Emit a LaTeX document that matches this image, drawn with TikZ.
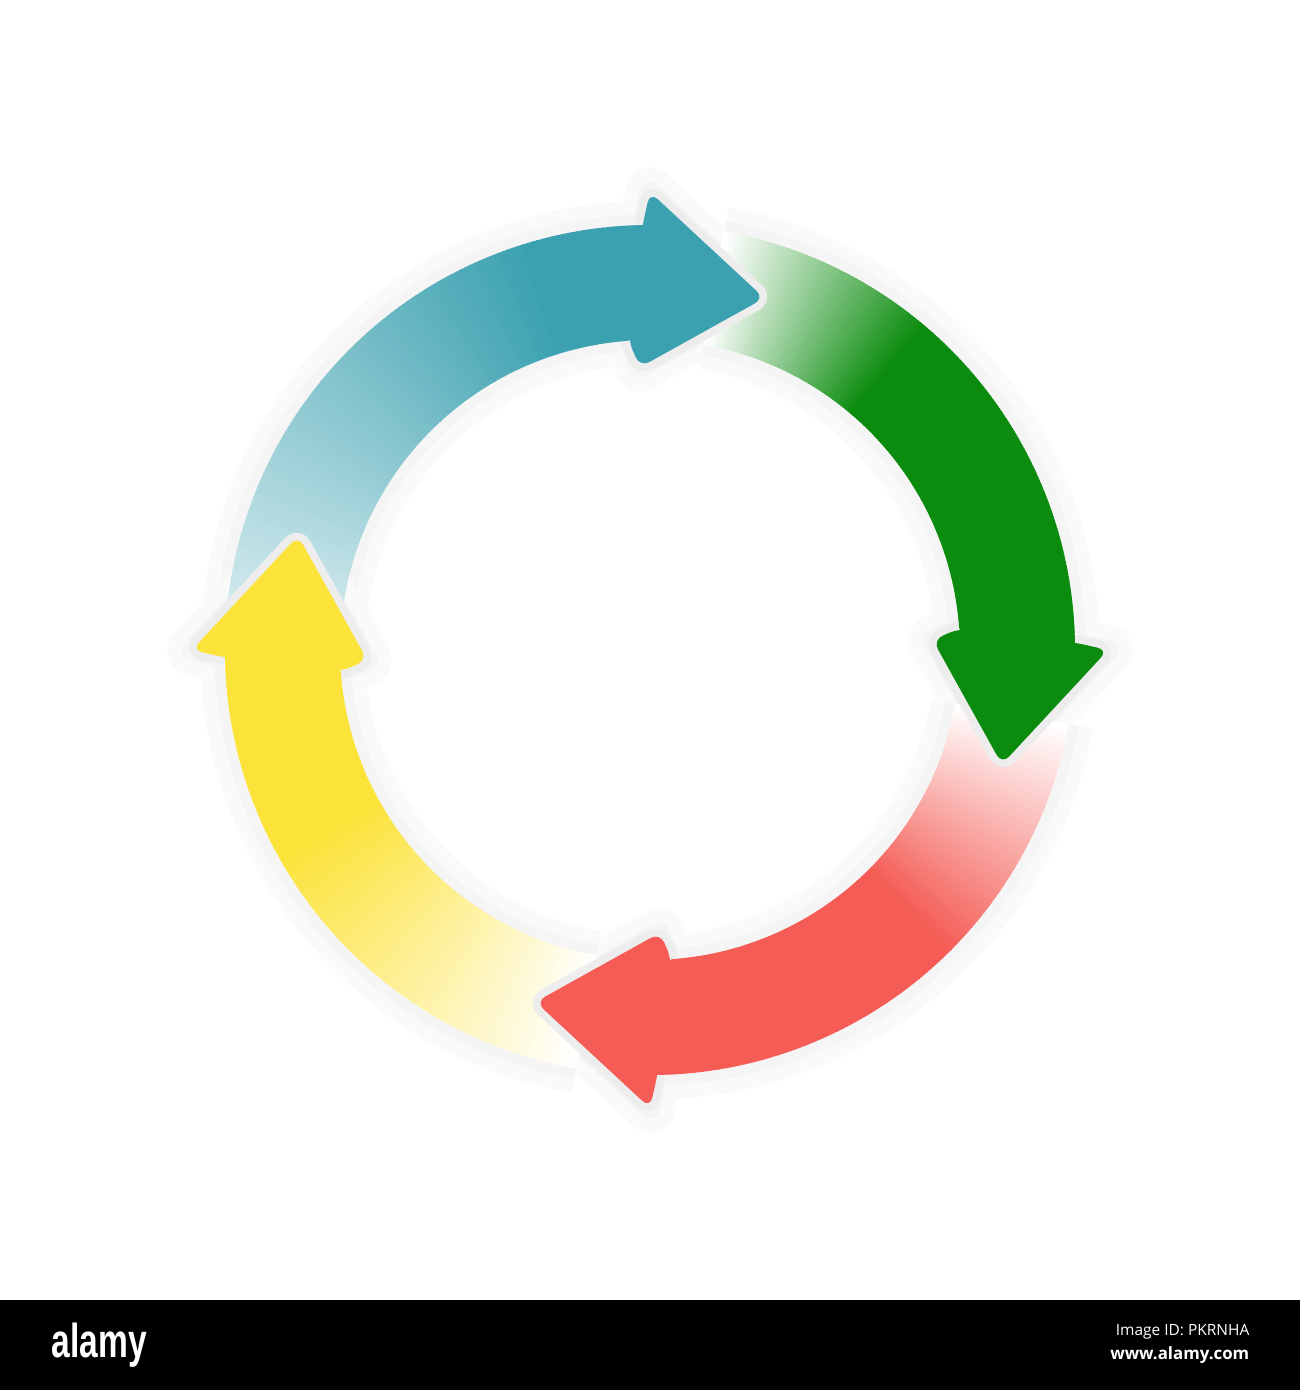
\documentclass[tikz,border=0pt]{standalone}
\usepackage{fontspec}
\setmainfont{Liberation Sans}
\newfontfamily\barfont{Open Sans}
\usepackage{graphicx}
\usetikzlibrary{calc}

\definecolor{cycteal}{HTML}{3BA1B0}
\definecolor{cycgreen}{HTML}{0B8C0E}
\definecolor{cycred}{HTML}{F45C55}
\definecolor{cycyellow}{HTML}{FCE33A}

\tikzset{
  rimshadow/.style={draw=black!2, line width=14pt, line join=round},
  rimline/.style={draw=black!4, line width=6pt, line join=round},
  headrim/.style={draw=black!7, line width=4.5pt, line join=round, rounded corners=3pt},
  headfill/.style={rounded corners=3pt},
  barlabel/.style={text=white, inner sep=0pt},
}

\begin{document}
\begin{tikzpicture}
\fill[white] (-6.5,-7.4) rectangle (6.5,6.5);
\useasboundingbox (-6.5,-7.4) rectangle (6.5,6.5);

% soft rim round the four arrows
\foreach \t/\f/\b/\col in {195/108/90/cycteal, 80/50/0/cycgreen, -10/-45/-90/cycred, -100/-150/-180/cycyellow} {
  \draw[rimshadow] (\t:3.10) arc (\t:\b+4:3.10) -- (\b+2:2.83) -- (\b-18:3.70) -- (\b:4.58) -- (\b+1:4.25) arc (\b+1:\t:4.25);
  \draw[rimline] (\t:3.10) arc (\t:\b+4:3.10) -- (\b+2:2.83) -- (\b-18:3.70) -- (\b:4.58) -- (\b+1:4.25) arc (\b+1:\t:4.25);
}

% arrow bodies, faded from the tail
\foreach \t/\f/\b/\col in {195/108/90/cycteal, 80/50/0/cycgreen, -10/-45/-90/cycred, -100/-150/-180/cycyellow} {
  \foreach \i in {0,...,149} {
    \pgfmathsetmacro{\sa}{\t-\i*(\t-\b-1)/150}
    \pgfmathsetmacro{\sb}{\sa-(\t-\b-1)/150-0.3}
    \pgfmathtruncatemacro{\mx}{min(100,100*(\t-\sa)/(\t-\f))}
    \fill[\col!\mx!white] (\sa:4.25) arc (\sa:\sb:4.25) -- (\sb:3.10) arc (\sb:\sa:3.10) -- cycle;
  }
}

% arrow heads
\foreach \t/\f/\b/\col in {195/108/90/cycteal, 80/50/0/cycgreen, -10/-45/-90/cycred, -100/-150/-180/cycyellow} {
  \draw[headrim] (\b+4:3.10) -- (\b+2:2.83) -- (\b-18:3.70) -- (\b:4.58) -- (\b+1:4.25);
  \fill[\col, headfill] (\b+1:4.25) -- (\b:4.58) -- (\b-18:3.70) -- (\b+2:2.83) -- (\b+4:3.10) -- cycle;
}

% bottom bar
\fill[black] (-6.5,-6.5) rectangle (6.5,-7.4);
\node[barlabel, anchor=west] (brand) at (-5.99,-6.95) {\scalebox{0.74}[1.05]{\fontsize{12.9}{13}\selectfont\bfseries alamy}};
\node[barlabel, anchor=east] (imgid) at (6.0,-6.815) {\barfont\fontsize{4.4}{5}\selectfont Image ID: PKRNHA};
\node[barlabel, anchor=east] (site) at (6.0,-7.05) {\barfont\fontsize{4.8}{5}\selectfont\bfseries www.alamy.com};
\end{tikzpicture}
\end{document}
